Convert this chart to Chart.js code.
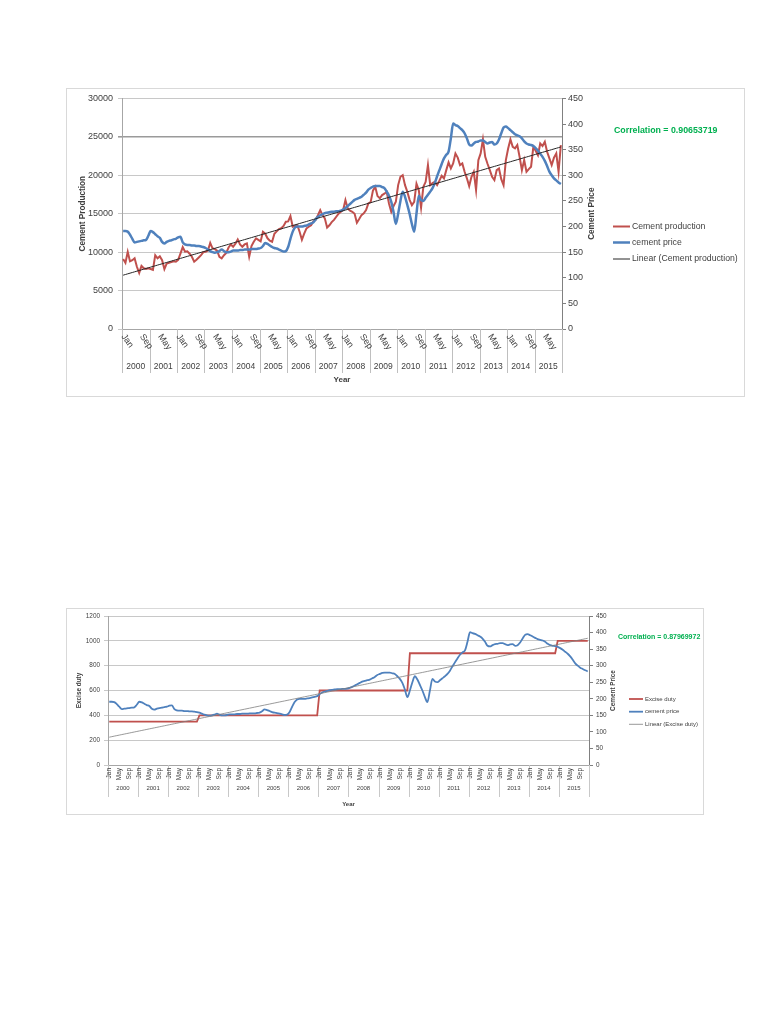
<!DOCTYPE html>
<html><head><meta charset="utf-8">
<script src="https://cdn.jsdelivr.net/npm/chart.js@4.4.1/dist/chart.umd.min.js"></script>
<style>
html,body{margin:0;padding:0;background:#fff;}
body{width:768px;height:1024px;position:relative;overflow:hidden;}
.frame{position:absolute;border:1px solid #d9d9d9;box-sizing:border-box;}
canvas{position:absolute;}
</style></head><body>
<div class="frame" style="left:66px;top:88px;width:679px;height:309px"></div>
<canvas id="c1" width="679" height="309" style="left:66px;top:88px;width:679px;height:309px"></canvas>
<div class="frame" style="left:66px;top:608px;width:638px;height:207px"></div>
<canvas id="c2" width="638" height="207" style="left:66px;top:608px;width:638px;height:207px"></canvas>
<script>
const years = [2000,2001,2002,2003,2004,2005,2006,2007,2008,2009,2010,2011,2012,2013,2014,2015];
const monthNames = ['Jan','Feb','Mar','Apr','May','Jun','Jul','Aug','Sep','Oct','Nov','Dec'];

const cementProduction = [
 9100,8600,10050,8800,8950,9200,8100,7300,8200,7900,7800,7900,
 7800,7700,9600,9200,9450,8950,7800,8500,8600,8700,8800,8750,
 9000,9800,10650,10050,10100,9800,9400,8750,9000,9300,9600,10000,
 10050,10200,11200,10500,10400,10200,9400,9200,9600,9900,10600,11000,
 10700,11100,11650,11000,10700,11000,11140,9400,10800,11350,11800,11600,
 11400,12650,12400,11800,11500,11350,12400,12700,13000,13100,13400,13950,
 14000,14700,13300,13400,13500,12650,11600,12400,13100,13300,13500,14000,
 14200,14800,15470,14820,14400,13200,13500,13900,14200,14600,15000,15250,
 15470,16770,15690,15400,15250,15000,13820,14300,14820,15040,15470,16340,
 16500,18000,18500,17290,17000,17420,17600,17850,16340,15250,16000,16550,
 18720,19800,20020,18720,17850,16800,16120,16550,18900,18070,15800,18500,
 19150,21320,18720,19000,19150,18720,19300,19930,19590,20670,21670,20890,
 21540,22840,22300,21320,21540,20450,19600,18590,19800,20450,18070,21970,
 22840,24660,22400,21500,20670,19800,19370,20670,20890,19500,18720,21970,
 23490,24660,23700,23490,23920,22400,20670,21970,20450,20800,21110,23700,
 23200,22620,24140,23800,24350,23050,22190,21320,22300,22840,20450,23920
];

const cementPrice = [
 191,191,190,184,176,169,170,171,172,173,174,182,
 191,189,185,181,178,170,167,170,172,173,175,176,
 179,180,169,165,164,164,163,163,162,162,161,160,
 158,155,152,150,149,150,152,155,152,150,150,151,
 153,153,153,154,154,155,155,155,156,156,156,157,
 158,162,168,166,163,160,158,157,155,153,151,152,
 160,176,190,198,200,200,200,201,202,204,206,208,
 214,219,222,224,226,227,228,229,229,230,230,231,
 233,236,240,244,248,252,254,256,258,262,266,272,
 275,278,279,279,279,277,275,268,260,248,228,205,
 225,250,268,258,242,225,205,190,225,260,252,250,
 256,262,268,275,285,298,310,322,333,340,346,372,
 401,398,396,392,388,382,372,360,358,362,365,366,
 368,368,365,362,364,365,360,362,370,382,393,395,
 392,388,384,380,378,376,372,366,362,360,359,357,
 353,348,342,336,328,318,307,300,294,290,286,283
];

const exciseDuty = [
 350,350,350,350,350,350,350,350,350,350,350,350,
 350,350,350,350,350,350,350,350,350,350,350,350,
 350,350,350,350,350,350,350,350,350,350,350,350,
 400,400,400,400,400,400,400,400,400,400,400,400,
 400,400,400,400,400,400,400,400,400,400,400,400,
 400,400,400,400,400,400,400,400,400,400,400,400,
 400,400,400,400,400,400,400,400,400,400,400,400,
 600,600,600,600,600,600,600,600,600,600,600,600,
 600,600,600,600,600,600,600,600,600,600,600,600,
 600,600,600,600,600,600,600,600,600,600,600,600,
 900,900,900,900,900,900,900,900,900,900,900,900,
 900,900,900,900,900,900,900,900,900,900,900,900,
 900,900,900,900,900,900,900,900,900,900,900,900,
 900,900,900,900,900,900,900,900,900,900,900,900,
 900,900,900,900,900,900,900,900,900,900,900,1000,
 1000,1000,1000,1000,1000,1000,1000,1000,1000,1000,1000,1000
];

const productionTicks = [0,5000,10000,15000,20000,25000,30000];
const priceTicks = [0,50,100,150,200,250,300,350,400,450];
const exciseTicks = [0,200,400,600,800,1000,1200];
const correlationProduction = '0.90653719';
const correlationExcise = '0.87969972';

const labels = years.flatMap(y => monthNames.map(m => m + ' ' + y));
const FONT = "'Liberation Sans', Arial, sans-serif";
Chart.defaults.font.family = FONT;
const TXT = '#404040';

function linearFit(vals) {
  const n = vals.length; let sx=0, sy=0, sxx=0, sxy=0;
  vals.forEach((v,i) => { sx+=i; sy+=v; sxx+=i*i; sxy+=i*v; });
  const b = (n*sxy - sx*sy) / (n*sxx - sx*sx);
  const a = (sy - b*sx) / n;
  return vals.map((_, i) => a + b*i);
}

const decor = {
  id: 'decor',
  afterDraw(chart) {
    const o = chart.options.plugins.decor;
    const {ctx, chartArea: a} = chart;
    const x = chart.scales.x;
    const n = chart.data.labels.length;
    const step = x.getPixelForValue(1) - x.getPixelForValue(0);
    ctx.save();
    // year separators
    ctx.strokeStyle = o.sepColor; ctx.lineWidth = 1;
    for (let k = 0; k <= years.length; k++) {
      const px = k === years.length ? x.getPixelForValue(n-1) + step/2 : x.getPixelForValue(12*k) - step/2;
      const xx = Math.round(px) + 0.5;
      ctx.beginPath(); ctx.moveTo(xx, a.bottom); ctx.lineTo(xx, o.sepBottom); ctx.stroke();
    }
    // year labels
    ctx.fillStyle = TXT; ctx.font = o.yearFont; ctx.textAlign = 'center'; ctx.textBaseline = 'middle';
    years.forEach((yr, k) => {
      const c = (x.getPixelForValue(12*k) + x.getPixelForValue(12*k+11)) / 2;
      ctx.fillText(String(yr), c, o.yearY);
    });
    // month labels
    ctx.font = o.monthFont;
    for (let i = 0; i < n; i += o.monthEvery) {
      const px = x.getPixelForValue(i);
      ctx.save();
      ctx.translate(px + o.monthDx, a.bottom + o.monthDy);
      ctx.rotate(o.monthAngle);
      ctx.textAlign = o.monthAlign; ctx.textBaseline = 'middle';
      ctx.fillText(monthNames[i % 12], 0, 0);
      ctx.restore();
    }
    // x title
    ctx.font = o.titleFont; ctx.textAlign = 'center'; ctx.textBaseline = 'middle';
    ctx.fillText('Year', (a.left + a.right) / 2, o.yearTitleY);
    // y titles
    const cy = (a.top + a.bottom) / 2;
    ctx.font = o.axisTitleFont;
    ctx.save(); ctx.translate(o.leftTitleX, cy); ctx.rotate(-Math.PI/2); ctx.fillText(o.leftTitle, 0, 0); ctx.restore();
    ctx.save(); ctx.translate(o.rightTitleX, cy); ctx.rotate(-Math.PI/2); ctx.fillText(o.rightTitle, 0, 0); ctx.restore();
    // correlation
    ctx.font = o.corrFont; ctx.fillStyle = '#00B050'; ctx.textAlign = 'left';
    ctx.fillText('Correlation = ' + o.corr, o.corrX, o.corrY);
    // legend
    ctx.font = o.legendFont; ctx.fillStyle = TXT;
    chart.data.datasets.forEach((ds, i) => {
      const y = o.legendYs[i];
      ctx.strokeStyle = ds.borderColor; ctx.lineWidth = o.legendLineW[i];
      ctx.beginPath(); ctx.moveTo(o.legendX0, y); ctx.lineTo(o.legendX1, y); ctx.stroke();
      ctx.fillText(ds.label, o.legendTextX, y);
    });
    ctx.restore();
  }
};

function yScale(pos, ticksArr, min, max, width, gridOpts, borderColor, font, pad) {
  return {
    position: pos, min, max,
    afterBuildTicks: s => { s.ticks = ticksArr.map(v => ({value: v})); },
    afterFit: s => { s.width = width; },
    ticks: {color: TXT, font: {size: font, family: FONT}, padding: pad, callback: v => String(v)},
    grid: gridOpts,
    border: {display: true, color: borderColor, width: 1}
  };
}

// Chart 1: cement production vs price
new Chart(document.getElementById('c1'), {
  type: 'line',
  data: {
    labels,
    datasets: [
      {label: 'Cement production', data: cementProduction, yAxisID: 'y', borderColor: '#C0504D', borderWidth: 2, pointRadius: 0, tension: 0, order: 2},
      {label: 'cement price', data: cementPrice, yAxisID: 'y1', borderColor: '#4F81BD', borderWidth: 2.5, pointRadius: 0, cubicInterpolationMode: 'monotone', order: 1},
      {label: 'Linear (Cement production)', data: linearFit(cementProduction), yAxisID: 'y', borderColor: '#262626', borderWidth: 1, pointRadius: 0, order: 0}
    ]
  },
  options: {
    responsive: false, animation: false, devicePixelRatio: 1,
    layout: {padding: {top: 10, left: 0, right: 153, bottom: 0}},
    plugins: {
      legend: {display: false}, tooltip: {enabled: false},
      decor: {
        sepBottom: 285, sepColor: '#bfbfbf', yearY: 279, yearFont: '8.5px ' + FONT,
        monthEvery: 8, monthAngle: 55*Math.PI/180, monthAlign: 'left', monthDx: 0, monthDy: 6, monthFont: '9px ' + FONT,
        yearTitleY: 292, titleFont: 'bold 8px ' + FONT,
        leftTitle: 'Cement Production', rightTitle: 'Cement Price', leftTitleX: 17, rightTitleX: 526, axisTitleFont: 'bold 8.2px ' + FONT,
        corr: correlationProduction, corrX: 548, corrY: 43, corrFont: 'bold 8.8px ' + FONT,
        legendX0: 547, legendX1: 564, legendTextX: 566, legendYs: [138.5, 154.5, 171], legendLineW: [2, 2.5, 1], legendFont: '8.7px ' + FONT
      }
    },
    scales: {
      x: {type: 'category', offset: true, grid: {display: false}, border: {display: true, color: '#a6a6a6'}, ticks: {display: false}, afterFit: s => { s.height = 68; }},
      y: yScale('left', productionTicks, 0, 30000, 56,
        {color: c => (c.tick && c.tick.value === 25000) ? '#9a9a9a' : '#c8c8c8', lineWidth: c => (c.tick && c.tick.value === 25000) ? 1.6 : 1, tickLength: 4},
        '#a6a6a6', 9, 5),
      y1: yScale('right', priceTicks, 0, 450, 30, {drawOnChartArea: false, tickLength: 4, color: '#808080'}, '#808080', 9, 2)
    }
  },
  plugins: [decor]
});

// Chart 2: excise duty vs price
new Chart(document.getElementById('c2'), {
  type: 'line',
  data: {
    labels,
    datasets: [
      {label: 'Excise duty', data: exciseDuty, yAxisID: 'y', borderColor: '#C0504D', borderWidth: 1.8, pointRadius: 0, tension: 0, order: 2},
      {label: 'cement price', data: cementPrice, yAxisID: 'y1', borderColor: '#4F81BD', borderWidth: 1.8, pointRadius: 0, cubicInterpolationMode: 'monotone', order: 1},
      {label: 'Linear (Excise duty)', data: linearFit(exciseDuty), yAxisID: 'y', borderColor: '#7f7f7f', borderWidth: 0.8, pointRadius: 0, order: 0}
    ]
  },
  options: {
    responsive: false, animation: false, devicePixelRatio: 1,
    layout: {padding: {top: 8, left: 0, right: 85, bottom: 0}},
    plugins: {
      legend: {display: false}, tooltip: {enabled: false},
      decor: {
        sepBottom: 189, sepColor: '#c8c8c8', yearY: 180, yearFont: '6px ' + FONT,
        monthEvery: 4, monthAngle: -Math.PI/2, monthAlign: 'right', monthDx: 0, monthDy: 3, monthFont: '6.5px ' + FONT,
        yearTitleY: 196, titleFont: 'bold 6px ' + FONT,
        leftTitle: 'Excise duty', rightTitle: 'Cement Price', leftTitleX: 13, rightTitleX: 547, axisTitleFont: 'bold 6.4px ' + FONT,
        corr: correlationExcise, corrX: 552, corrY: 29, corrFont: 'bold 7px ' + FONT,
        legendX0: 563, legendX1: 577, legendTextX: 579, legendYs: [91, 103.7, 116.3], legendLineW: [1.8, 1.8, 0.8], legendFont: '6px ' + FONT
      }
    },
    scales: {
      x: {type: 'category', offset: true, grid: {display: false}, border: {display: true, color: '#a6a6a6'}, ticks: {display: false}, afterFit: s => { s.height = 50; }},
      y: yScale('left', exciseTicks, 0, 1200, 42, {color: '#c8c8c8', lineWidth: 1, tickLength: 4}, '#a6a6a6', 6.4, 4),
      y1: yScale('right', priceTicks, 0, 450, 30, {drawOnChartArea: false, tickLength: 4, color: '#808080'}, '#808080', 6.4, 3)
    }
  },
  plugins: [decor]
});
</script>
</body></html>
